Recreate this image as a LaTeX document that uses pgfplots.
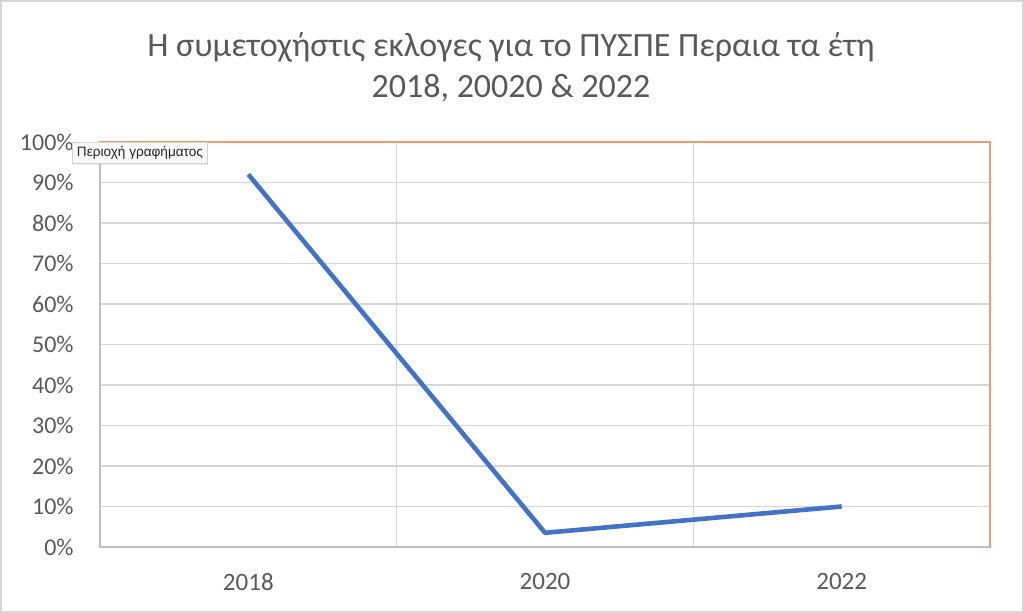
\documentclass[border=0pt]{standalone}
\usepackage{fontspec}
\setmainfont{Carlito}
\newfontfamily\tipfont{Liberation Sans}
\usepackage{pgfplots}
\pgfplotsset{compat=1.18}
\usetikzlibrary{shadows}
\definecolor{txt}{RGB}{89,89,89}
\definecolor{gridc}{RGB}{214,214,214}
\definecolor{axc}{RGB}{191,191,191}
\definecolor{serc}{RGB}{68,114,196}
\definecolor{sel}{RGB}{234,158,112}
\begin{document}
\begin{tikzpicture}
\useasboundingbox (0pt,0pt) rectangle (512pt,306.5pt);
\draw[gridc, line width=1pt] (0.5pt,0.5pt) rectangle (511.5pt,306pt);
\node[txt, font=\fontsize{17}{20}\selectfont] at (255.5pt,283pt) {Η συμετοχήστις εκλογες για το ΠΥΣΠΕ Περαια τα έτη};
\node[txt, font=\fontsize{17}{20}\selectfont] at (255.5pt,262.5pt) {2018, 20020 \& 2022};
\begin{axis}[at={(50pt,33pt)}, anchor=south west, scale only axis,
  width=445pt, height=202.5pt,
  xmin=-0.5, xmax=2.5, ymin=0, ymax=100,
  xtick={0,1,2}, xticklabels={2018,2020,2022},
  minor xtick={0.5,1.5},
  ytick={0,10,...,100},
  yticklabel={\pgfmathprintnumber{\tick}\%},
  /pgf/number format/assume math mode=true,
  ymajorgrids, xminorgrids,
  major grid style={gridc, line width=0.8pt},
  minor grid style={gridc, line width=0.8pt},
  major tick length=0pt, minor tick length=0pt,
  axis line style={draw=none},
  yticklabel style={txt, font=\fontsize{12}{14}\selectfont, anchor=east, inner sep=0pt, xshift=-13pt},
  xticklabel style={txt, font=\fontsize{12.5}{15}\selectfont, anchor=north, inner sep=0pt, yshift=-13pt},
  clip=false,
]
\addplot[serc, line width=2.3pt, line join=round] coordinates {(0,92) (1,3.5) (2,10)};
\draw[sel, line width=0.9pt] (rel axis cs:0,0) rectangle (rel axis cs:1,1);
\draw[axc, line width=0.9pt] (rel axis cs:0,1) -- (rel axis cs:0,0) -- (rel axis cs:1,0);
\end{axis}
\node[fill=gray!5, draw=gray!35, drop shadow={opacity=0.15, shadow xshift=0pt, shadow yshift=-1pt},
  minimum width=67.5pt, minimum height=10.5pt, inner sep=0pt,
  font=\tipfont\fontsize{6.8}{8}\selectfont, text=black!85] at (70pt,230pt) {Περιοχή γραφήματος};
\end{tikzpicture}
\end{document}
